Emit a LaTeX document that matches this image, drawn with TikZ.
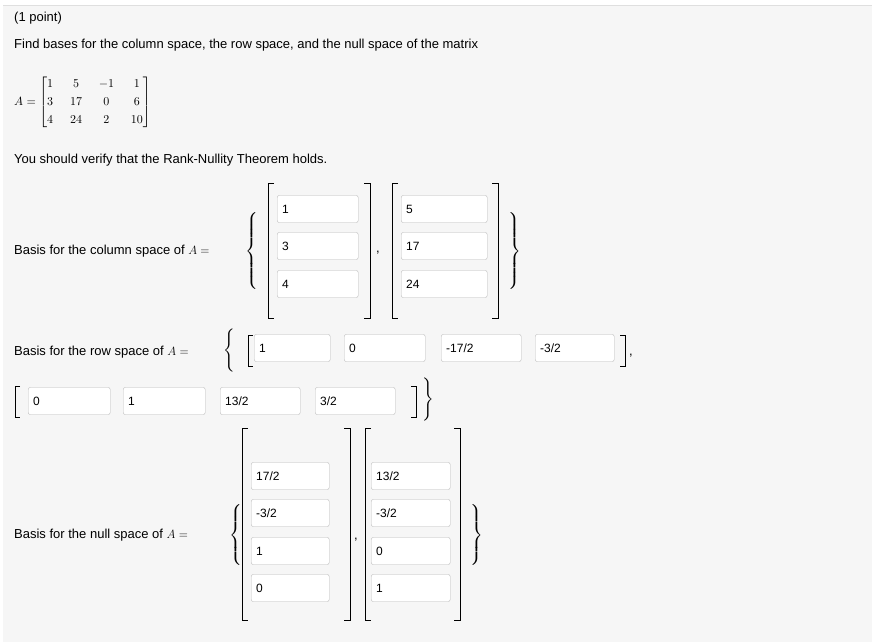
\documentclass[tikz,border=0pt]{standalone}
\usepackage{amsmath}
\usepackage{fontspec}
\setmainfont{Liberation Sans}
\begin{document}
\begin{tikzpicture}[x=1pt,y=-1pt,
  txt/.style={anchor=west,inner sep=0pt,font=\fontsize{13}{15}\selectfont},
  inbox/.style={draw=gray!55,fill=white,rounded corners=2pt,minimum height=27pt,inner xsep=5pt,anchor=west,align=left,font=\fontsize{12}{14}\selectfont},
  brk/.style={line width=0.9pt,black},
  brc/.style={inner sep=0pt,font=\fontsize{14}{16}\selectfont}]
\useasboundingbox (0,0) rectangle (872,642);
\fill[gray!7] (3,5) rectangle (872,642);
\draw[gray!25] (3,5) -- (872,5);
\node[txt] (pt) at (14,18) {(1 point)};
\node[txt] (q) at (14,45) {Find bases for the column space, the row space, and the null space of the matrix};
\node[anchor=west,inner sep=0pt,scale=1.2] (A) at (14,102) {$A=\renewcommand{\arraystretch}{1.25}\setlength{\arraycolsep}{7pt}\begin{bmatrix}1&5&-1&1\\3&17&0&6\\4&24&2&10\end{bmatrix}$};
\node[txt] (v) at (14,160) {You should verify that the Rank-Nullity Theorem holds.};
% column space
\node[txt] (cl) at (14,251) {Basis for the column space of $A=$};
\node[brc] (cb1) at (252,251) {$\left\{\vcenter{\hbox{\rule{0pt}{78pt}}}\right.$};
\draw[brk] (274,183)--(268,183)--(268,318)--(274,318);
\draw[brk] (364,183)--(370,183)--(370,318)--(364,318);
\node[inbox,text width=71pt] (c11) at (277,209) {1};
\node[inbox,text width=71pt] (c12) at (277,246) {3};
\node[inbox,text width=71pt] (c13) at (277,284) {4};
\node[txt] (cc) at (376,253) {,};
\draw[brk] (398,183)--(392,183)--(392,318)--(398,318);
\draw[brk] (492,183)--(498,183)--(498,318)--(492,318);
\node[inbox,text width=76pt] (c21) at (401,209) {5};
\node[inbox,text width=76pt] (c22) at (401,246) {17};
\node[inbox,text width=76pt] (c23) at (401,284) {24};
\node[brc] (cb2) at (514,251) {$\left.\vcenter{\hbox{\rule{0pt}{78pt}}}\right\}$};
% row space
\node[txt] (rl) at (14,352) {Basis for the row space of $A=$};
\node[brc] (rb1) at (230,351) {$\left\{\vcenter{\hbox{\rule{0pt}{44pt}}}\right.$};
\draw[brk] (253,335)--(248,335)--(248,366)--(253,366);
\node[inbox,text width=66pt] (r11) at (254,348) {1};
\node[inbox,text width=71pt] (r12) at (344,348) {0};
\node[inbox,text width=70pt] (r13) at (441,348) {-17/2};
\node[inbox,text width=69pt] (r14) at (535,348) {-3/2};
\draw[brk] (620,335)--(625,335)--(625,366)--(620,366);
\node[txt] (rc) at (629,356) {,};
\draw[brk] (20,386)--(15,386)--(15,417)--(20,417);
\node[inbox,text width=72pt] (r21) at (28,401) {0};
\node[inbox,text width=72pt] (r22) at (123,401) {1};
\node[inbox,text width=70pt] (r23) at (220,401) {13/2};
\node[inbox,text width=70pt] (r24) at (315,401) {3/2};
\draw[brk] (411,386)--(416,386)--(416,417)--(411,417);
\node[brc] (rb2) at (428,400) {$\left.\vcenter{\hbox{\rule{0pt}{44pt}}}\right\}$};
% null space
\node[txt] (nl) at (14,535) {Basis for the null space of $A=$};
\node[brc] (nb1) at (236,535) {$\left\{\vcenter{\hbox{\rule{0pt}{58pt}}}\right.$};
\draw[brk] (248,428)--(242,428)--(242,620)--(248,620);
\draw[brk] (344,428)--(350,428)--(350,620)--(344,620);
\node[inbox,text width=68pt] (n11) at (251,476) {17/2};
\node[inbox,text width=68pt] (n12) at (251,513) {-3/2};
\node[inbox,text width=68pt] (n13) at (251,551) {1};
\node[inbox,text width=68pt] (n14) at (251,588) {0};
\node[txt] (nc) at (354,540) {,};
\draw[brk] (371,428)--(365,428)--(365,620)--(371,620);
\draw[brk] (454,428)--(460,428)--(460,620)--(454,620);
\node[inbox,text width=69pt] (n21) at (371,476) {13/2};
\node[inbox,text width=69pt] (n22) at (371,513) {-3/2};
\node[inbox,text width=69pt] (n23) at (371,551) {0};
\node[inbox,text width=69pt] (n24) at (371,588) {1};
\node[brc] (nb2) at (476,535) {$\left.\vcenter{\hbox{\rule{0pt}{58pt}}}\right\}$};
\end{tikzpicture}
\end{document}
